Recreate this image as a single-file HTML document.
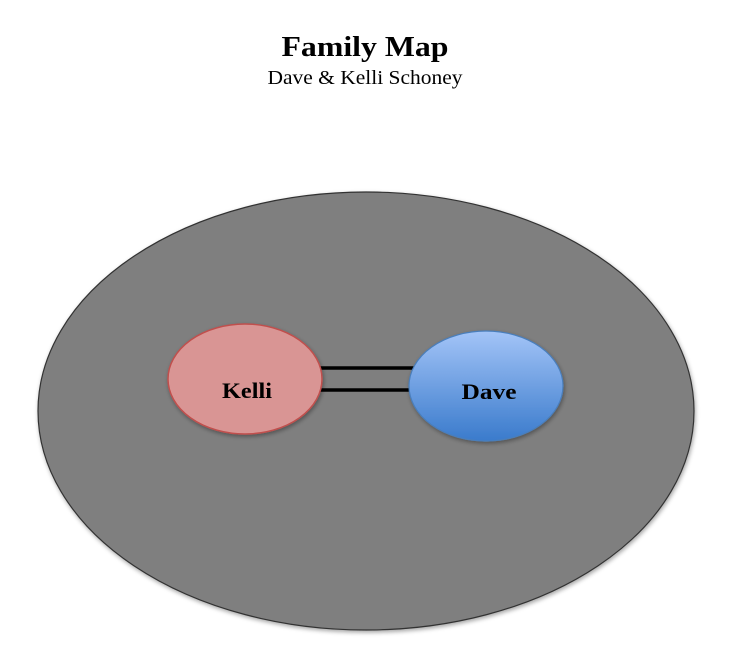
<!DOCTYPE html>
<html><head><meta charset="utf-8"><style>
html,body{margin:0;padding:0;background:#fff;width:731px;height:665px;overflow:hidden}
svg{display:block}
</style></head><body>
<svg width="731" height="665" viewBox="0 0 731 665" xmlns="http://www.w3.org/2000/svg">
<defs>
<linearGradient id="blue" x1="0" y1="0" x2="0" y2="1">
<stop offset="0" stop-color="#a3c4f7"/><stop offset="1" stop-color="#3a7bcc"/>
</linearGradient>
<filter id="sh" x="-20%" y="-20%" width="140%" height="140%"><feDropShadow dx="1" dy="2" stdDeviation="2" flood-opacity="0.35"/></filter>
</defs>
<text x="365" y="56" text-anchor="middle" font-family="Liberation Serif, serif" font-weight="bold" font-size="28" textLength="167" lengthAdjust="spacingAndGlyphs">Family Map</text>
<text x="365" y="84" text-anchor="middle" font-family="Liberation Serif, serif" font-size="20" textLength="195" lengthAdjust="spacingAndGlyphs">Dave &amp; Kelli Schoney</text>
<ellipse cx="366" cy="411" rx="328" ry="219" fill="#7f7f7f" stroke="#333" stroke-width="1.2" filter="url(#sh)"/>
<line x1="318" y1="368" x2="414" y2="368" stroke="#000" stroke-width="3.5"/>
<line x1="318" y1="390" x2="414" y2="390" stroke="#000" stroke-width="3.5"/>
<ellipse cx="245" cy="379" rx="77" ry="55" fill="#d99594" stroke="#c0504d" stroke-width="1.5" filter="url(#sh)"/>
<ellipse cx="486" cy="386" rx="77" ry="55" fill="url(#blue)" stroke="#4a7ebb" stroke-width="1.2" filter="url(#sh)"/>
<text x="247" y="398" text-anchor="middle" font-family="Liberation Serif, serif" font-weight="bold" font-size="22" textLength="50" lengthAdjust="spacingAndGlyphs">Kelli</text>
<text x="489" y="399" text-anchor="middle" font-family="Liberation Serif, serif" font-weight="bold" font-size="22" textLength="55" lengthAdjust="spacingAndGlyphs">Dave</text>
</svg>
</body></html>
